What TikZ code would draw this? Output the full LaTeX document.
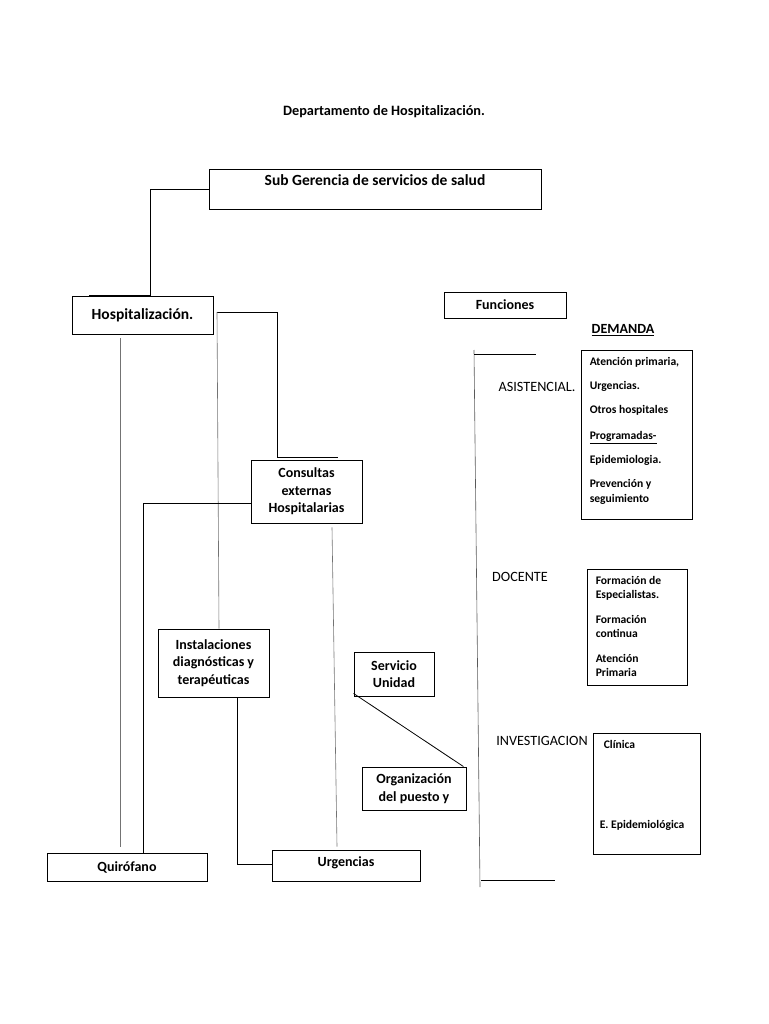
\documentclass[tikz,border=0pt]{standalone}
\usepackage{fontspec}
\setmainfont{Carlito}
\usetikzlibrary{positioning}
\tikzset{
  caja/.style={draw, line width=0.9pt, font=\bfseries\fontsize{14}{17.5}\selectfont, align=center, inner sep=2pt},
  marco/.style={draw, line width=0.9pt, inner sep=0pt},
  lista/.style={font=\bfseries\fontsize{11.6}{14.5}\selectfont, align=left, inner sep=0pt, anchor=north west},
  funcion/.style={font=\fontsize{14.2}{16}\selectfont},
  linea/.style={line width=0.8pt},
  tenue/.style={line width=0.6pt, black!55},
}
\begin{document}
\begin{tikzpicture}[x=1pt,y=-1pt]
		\useasboundingbox (0,0) rectangle (768,1024);
		
		%%%%% titulo %%%%%
		\node[font=\bfseries\fontsize{14.3}{16}\selectfont] (titulo) at (384,112) {Departamento de Hospitalizaci\'on.};
		
		%%%%% organigrama %%%%%
		\node[caja, minimum width=332, minimum height=40, text depth=17, font=\bfseries\fontsize{15.5}{18}\selectfont] (sub) at (375,189) {Sub Gerencia de servicios de salud};
		\node[caja, minimum width=141, minimum height=38, font=\bfseries\fontsize{15.5}{18}\selectfont] (hosp) at (142.5,315) {Hospitalizaci\'on.};
		\node[caja, minimum width=111, minimum height=63] (cons) at (306.5,491.5) {Consultas\\externas\\Hospitalarias};
		\node[caja, minimum width=111, minimum height=68] (inst) at (213.5,663) {Instalaciones\\diagn\'osticas y\\terap\'euticas};
		\node[caja, minimum width=80, minimum height=44] (serv) at (394,674) {Servicio\\Unidad};
		\node[caja, minimum width=104, minimum height=43] (org) at (414,788.5) {Organizaci\'on\\del puesto y};
		\node[caja, minimum width=160, minimum height=28] (quir) at (127,867) {Quir\'ofano};
		\node[caja, minimum width=148, minimum height=31, text depth=8] (urg) at (346,865.5) {Urgencias};
		
		\coordinate (h0) at (89,296);
		\coordinate (h1) at (150,296);
		\coordinate (h2) at (217,312);
		
		\draw[linea] (sub.west) -| (h1);
		\draw[linea, line width=1.4pt] (h0) -- (h1);
		\draw[linea] (h2) -| ([shift={(-29.5,-2)}]cons.north) -- ([shift={(31.5,-2)}]cons.north);
		\draw[tenue] (h2) -- ([shift={(5.5,0)}]inst.north);
		\draw[tenue] ([shift={(-22.5,4)}]hosp.south) -- ([shift={(-7,-6)}]quir.north);
		\draw[linea] ([shift={(0,11.5)}]cons.west) -| ([shift={(16,0)}]quir.north);
		\draw[tenue] ([shift={(25.5,4)}]cons.south) -- ([shift={(-9,-3)}]urg.north);
		\draw[linea] ([shift={(-13.5,0)}]inst.south) -- ([shift={(23.5,0)}]inst.south) |- ([shift={(0,-1.5)}]urg.west);
		\draw[linea] ([shift={(0,-3)}]serv.south west) -- ([shift={(-3,0)}]org.north east);
		
		%%%%% funciones %%%%%
		\node[caja, minimum width=122, minimum height=26] (func) at (505,305) {Funciones};
		\node[font=\bfseries\fontsize{14}{16}\selectfont] (demanda) at (623,330) {\underline{DEMANDA}};
		
		\coordinate (eje1) at (474,350);
		\coordinate (eje2) at (480,887);
		\draw[tenue, black!65] (eje1) -- (eje2);
		\draw[linea] ([shift={(0,4)}]eje1) -- ++(62,0);
		\draw[linea] ([shift={(1,-7)}]eje2) -- ++(74,0);
		
		\node[funcion] (asist) at (537,387) {ASISTENCIAL.};
		\node[funcion] (doc) at (520,577) {DOCENTE};
		\node[funcion] (inv) at (542,741) {INVESTIGACION};
		
		\node[marco, minimum width=111, minimum height=169] (dem) at (636.5,434.5) {};
		\node[marco, minimum width=100, minimum height=116] (form) at (637,627) {};
		\node[marco, minimum width=107, minimum height=121] (inves) at (646.5,793.5) {};
		
		\node[lista] (demtxt) at ([shift={(9,8)}]dem.north west) {Atenci\'on primaria,\\[9.5pt]Urgencias.\\[9.5pt]Otros hospitales\\[11pt]\underline{Programadas-}\\[10pt]Epidemiologia.\\[9.5pt]Prevenci\'on y\\seguimiento};
		\node[lista] (formtxt) at ([shift={(9,7.5)}]form.north west) {Formaci\'on de\\Especialistas.\\[10pt]Formaci\'on\\continua\\[10pt]Atenci\'on\\Primaria};
		\node[lista] (clin) at ([shift={(11,7.5)}]inves.north west) {Cl\'inica};
		\node[lista] (epid) at ([shift={(7,88)}]inves.north west) {E. Epidemiol\'ogica};
		
\end{tikzpicture}
\end{document}
